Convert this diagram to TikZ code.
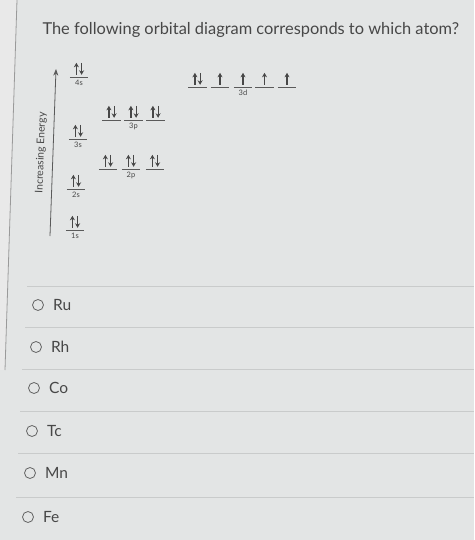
\documentclass[tikz,border=0pt]{standalone}
\usepackage{fontspec}
\setmainfont{Lato}
\usetikzlibrary{arrows.meta}
\definecolor{paper}{HTML}{E3E5E5}
\definecolor{ink}{HTML}{474747}
\definecolor{rule}{HTML}{C9CBCB}

\begin{document}
\begin{tikzpicture}[x=1pt,y=-1pt,
        >={Stealth},
        spin/.style={draw=ink,line width=1.2pt,-{Stealth[length=4.5pt,width=5pt]}},
        orb/.style={minimum width=18pt,minimum height=16pt,inner sep=0pt,anchor=south},
        pair/.style={orb,path picture={
            \draw[spin] ([xshift=-2.6pt,yshift=2pt]path picture bounding box.south) -- ++(0,12pt);
            \draw[spin] ([xshift=2.6pt,yshift=14pt]path picture bounding box.south) -- ++(0,-12pt);}},
        single/.style={orb,path picture={
            \draw[spin] ([yshift=2pt]path picture bounding box.south) -- ++(0,12pt);}},
        sub/.style={below=2.5pt,font=\fontsize{7.5}{7.5}\selectfont,text=ink,inner sep=0pt},
        choice/.style={anchor=west,font=\fontsize{15.5}{15.5}\selectfont,text=ink,inner sep=0pt},
        radio/.style={circle,draw=ink!85,thick,minimum size=11pt,inner sep=0pt},
        sep/.style={draw=rule,thick},
    ]
    \fill[paper] (0,0) rectangle (474,540);
    \useasboundingbox (0,0) rectangle (474,540);
    \fill[ink!12] (0,0) -- (17,0) -- (5,370) -- (0,370) -- cycle;
    \draw[ink!55,thick] (17,0) -- (5,370);

    \node[anchor=west,font=\fontsize{16.4}{16.4}\selectfont,text=ink] (title) at (39,30)
        {The following orbital diagram corresponds to which atom?};

    % energy axis
    \coordinate (lo) at (50,236);
    \coordinate (hi) at (56,69);
    \draw[ink!90,thick,->] (lo) -- (hi);
    \node[rotate=88,font=\fontsize{10.5}{10.5}\selectfont,text=ink] (energy) at (41,153) {Increasing Energy};

    % s orbitals
    \node[pair] (s4) at (79,77) {};
    \node[pair] (s3) at (78,139) {};
    \node[pair] (s2) at (76,189) {};
    \node[pair] (s1) at (75,230) {};
    % p orbitals
    \node[pair] (pa3) at (111.5,120) {};
    \node[pair] (pb3) at (133.5,120) {};
    \node[pair] (pc3) at (155.5,120) {};
    \node[pair] (pa2) at (108,169) {};
    \node[pair] (pb2) at (131,169) {};
    \node[pair] (pc2) at (155,169) {};
    % d orbitals
    \node[pair] (da) at (197.5,87) {};
    \node[single] (db) at (220,87) {};
    \node[single] (dc) at (243,87) {};
    \node[single] (dd) at (264.5,87) {};
    \node[single] (de) at (287,87) {};

    \foreach \o in {s4,s3,s2,s1,pa3,pb3,pc3,pa2,pb2,pc2,da,db,dc,dd,de}
        \draw[ink!90,semithick] (\o.south west) -- (\o.south east);

    \node[sub] (l4s) at (s4.south) {4s};
    \node[sub] (l3s) at (s3.south) {3s};
    \node[sub] (l2s) at (s2.south) {2s};
    \node[sub] (l1s) at (s1.south) {1s};
    \node[sub] (l3p) at (pb3.south) {3p};
    \node[sub] (l2p) at (pb2.south) {2p};
    \node[sub] (l3d) at (dc.south) {3d};

    % answer choices
    \foreach \y/\x in {286/27,327/25,369/22,411/20,453/18,497/16}
        \draw[sep] (\x,\y) -- (474,\y);
    \foreach \n/\el/\x/\y in {ru/Ru/38/305,rh/Rh/36/347,co/Co/34/388,tc/Tc/32/431,mn/Mn/30/473,fe/Fe/28/517}{
        \node[radio] (r\n) at (\x,\y) {};
        \node[choice] (c\n) at ([xshift=9pt]r\n.east) {\el};
    }
\end{tikzpicture}
\end{document}
